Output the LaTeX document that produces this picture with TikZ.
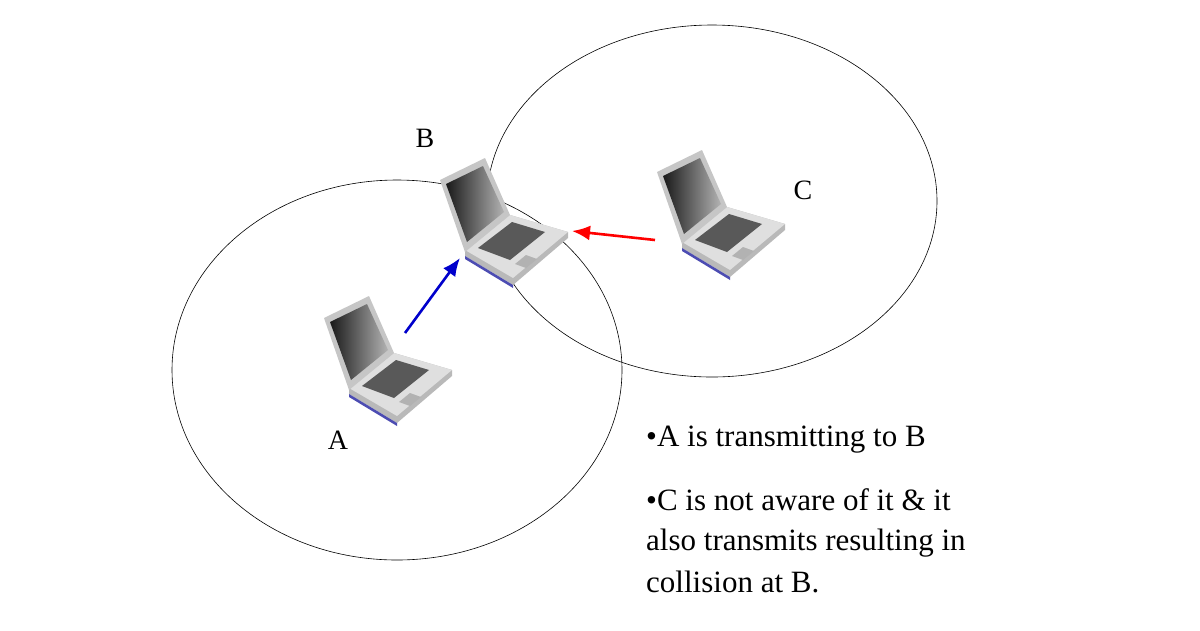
\documentclass[tikz,border=0pt]{standalone}
\usepackage{fontspec}
\setmainfont{Liberation Serif}
\usetikzlibrary{arrows.meta}
\begin{document}
\begin{tikzpicture}[x=1pt,y=-1pt,
  lbl/.style={font=\fontsize{28}{32}\selectfont,inner sep=0pt},
  txt/.style={font=\fontsize{31}{36}\selectfont,anchor=west,inner sep=0pt},
  rng/.style={draw=black,line width=0.6pt},
  arr/.style={line width=2.6pt,-{Latex[length=18pt,width=15pt]}},
  laptop/.pic={
    % base
    \fill[gray!55] (25,70) -- (70,35) -- (128,52) -- (128,58) -- (73,105) -- (25,76) -- cycle;
    \fill[gray!25] (25,70) -- (70,35) -- (128,52) -- (73,98) -- cycle;
    \fill[gray!70!black] (38,68) -- (72,42) -- (105,52) -- (70,80) -- cycle;
    \fill[gray!60] (75,84) -- (86,75) -- (97,79) -- (86,88) -- cycle;
    \fill[blue!40!gray] (25,76) -- (73,105) -- (73,108) -- (25,79) -- cycle;
    % screen
    \fill[gray!45] (0,0) -- (45,-22) -- (70,35) -- (25,72) -- cycle;
    \shade[left color=black!90, right color=gray!60] (6,4) -- (43,-14) -- (64,32) -- (27,62) -- cycle;
  }]
\useasboundingbox (0,0) rectangle (1200,630);
\fill[white] (0,0) rectangle (1200,630);
\draw[rng] (397,370) ellipse [x radius=225, y radius=190];
\draw[rng] (712,201) ellipse [x radius=225, y radius=176];
\pic at (440,180) {laptop};
\pic at (324,318) {laptop};
\pic at (657,172) {laptop};
\coordinate (a) at (405,333);
\coordinate (b1) at (460,258);
\coordinate (c) at (655,240);
\coordinate (b2) at (572,231);
\draw[arr,blue!80!black] (a) -- (b1);
\draw[arr,red] (c) -- (b2);
\node[lbl] (lB) at (425,138) {B};
\node[lbl] (lC) at (803,190) {C};
\node[lbl] (lA) at (338,440) {A};
\node[txt] (t1) at (646,440) {•A is transmitting to B};
\node[txt] (t2) at (646,500) {•C is not aware of it \& it};
\node[txt] (t3) at (646,543) {also transmits resulting in};
\node[txt] (t4) at (646,582) {collision at B.};
\end{tikzpicture}
\end{document}
